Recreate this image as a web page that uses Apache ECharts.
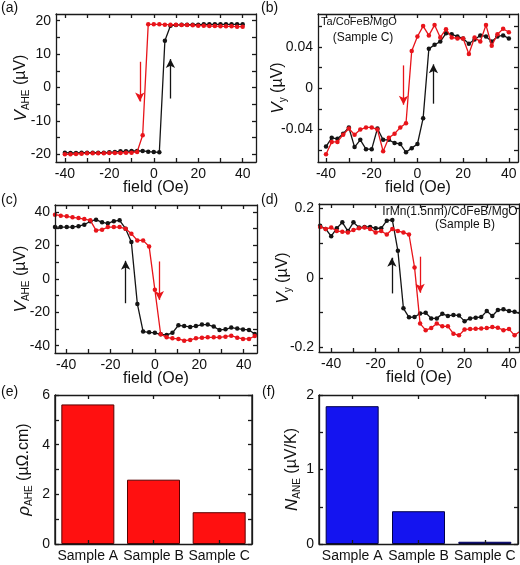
<!DOCTYPE html>
<html><head><meta charset="utf-8">
<script src="https://cdn.jsdelivr.net/npm/echarts@6/dist/echarts.min.js"></script>
<style>html,body{margin:0;padding:0;background:#fff}#c{width:520px;height:565px}</style>
</head><body><div id="c"></div>
<script>
// ---- data ----
const fieldA = [-40,-37.5,-35,-32.5,-30,-27.5,-25,-22.5,-20,-17.5,-15,-12.5,-10,-7.5,-5,-2.5,0,2.5,5,7.5,10,12.5,15,17.5,20,22.5,25,27.5,30,32.5,35,37.5,40];
const blackA = [-19.5,-19.6,-19.6,-19.5,-19.5,-19.5,-19.5,-19.5,-19.4,-19.3,-19.1,-19.1,-19.0,-19.0,-19.0,-19.2,-19.3,-19.4,14.0,18.5,18.7,18.8,18.8,18.8,18.8,18.9,18.9,18.9,18.9,18.9,18.9,18.9,18.9];
const redA = [-20.0,-20.0,-19.9,-19.8,-19.7,-19.7,-19.7,-19.7,-19.6,-19.6,-19.6,-19.5,-19.5,-19.3,-14.3,18.9,18.9,18.9,18.8,18.8,18.8,18.7,18.7,18.6,18.5,18.5,18.4,18.4,18.3,18.3,18.3,18.2,18.2];

const fieldB = [-40,-37.5,-35,-32.5,-30,-27.5,-25,-22.5,-20,-17.5,-15,-12.5,-10,-7.5,-5,-2.5,0,2.5,5,7.5,10,12.5,15,17.5,20,22.5,25,27.5,30,32.5,35,37.5,40];
const blackB = [-0.0565,-0.048,-0.049,-0.044,-0.038,-0.057,-0.050,-0.059,-0.059,-0.039,-0.050,-0.050,-0.053,-0.054,-0.062,-0.058,-0.054,-0.029,0.038,0.042,0.045,0.053,0.052,0.050,0.048,0.043,0.047,0.051,0.050,0.045,0.050,0.051,0.048];
const redB = [-0.064,-0.052,-0.052,-0.045,-0.039,-0.045,-0.040,-0.038,-0.038,-0.040,-0.061,-0.048,-0.044,-0.038,-0.034,0.036,0.050,0.060,0.051,0.061,0.049,0.057,0.049,0.048,0.048,0.033,0.049,0.045,0.061,0.041,0.052,0.0575,0.054];

const fieldC = [-45,-42.4,-39.7,-37.1,-34.4,-31.8,-29.1,-26.5,-23.8,-21.2,-18.5,-15.9,-13.2,-10.6,-7.9,-5.3,-2.6,0,2.6,5.3,7.9,10.6,13.2,15.9,18.5,21.2,23.8,26.5,29.1,31.8,34.4,37.1,39.7,42.4,45];
const blackC = [31,31,31,31,31.5,32.4,34.5,35.4,33.8,33.2,34.5,35,30,22,-15,-31.6,-32,-32.3,-33.2,-33.6,-32.3,-27.8,-28.3,-28.8,-28.3,-27.4,-27.4,-28.6,-30.6,-30.2,-29.2,-29.8,-30.3,-30.6,-33];
const redC = [38.4,37.8,37.4,36.8,36.4,35.8,35,29,29.4,31,31,31,30,27,23,23,19.4,-6.6,-33.2,-35,-35.6,-36,-37,-36.6,-35.6,-35.2,-35,-35,-35,-34.6,-34,-35.2,-36,-36,-34.2];

const fieldD = [-45,-42.5,-40,-37.5,-35,-32.5,-30,-27.5,-25,-22.5,-20,-17.5,-15,-12.5,-10,-7.5,-5,-2.5,0,2.5,5,7.5,10,12.5,15,17.5,20,22.5,25,27.5,30,32.5,35,37.5,40,42.5,45];
const blackD = [0.150,0.141,0.120,0.143,0.160,0.135,0.160,0.145,0.147,0.147,0.143,0.143,0.165,0.167,0.078,-0.088,-0.114,-0.113,-0.103,-0.101,-0.117,-0.117,-0.104,-0.110,-0.107,-0.109,-0.125,-0.117,-0.115,-0.113,-0.096,-0.110,-0.093,-0.091,-0.096,-0.098,-0.103];
const redD = [0.147,0.141,0.145,0.135,0.133,0.131,0.138,0.143,0.145,0.141,0.131,0.135,0.125,0.141,0.135,0.131,0.125,0.030,-0.132,-0.151,-0.145,-0.132,-0.140,-0.140,-0.161,-0.166,-0.149,-0.148,-0.147,-0.146,-0.145,-0.142,-0.144,-0.151,-0.148,-0.166,-0.154];

const samples = ['Sample A','Sample B','Sample C'];
const rhoAHE = [5.62, 2.59, 1.28];
const nANE = [1.85, 0.44, 0.03];

const fieldTicks = [-40,-30,-20,-10,0,10,20,30,40];
const fieldLabels = [-40,-20,0,20,40];
const yTicksA = [-20,-15,-10,-5,0,5,10,15,20], yLabelsA = [-20,-10,0,10,20];
const yTicksB = [-0.06,-0.04,-0.02,0,0.02,0.04,0.06], yLabelsB = [-0.04,0,0.04];
const yTicksC = [-40,-30,-20,-10,0,10,20,30,40], yLabelsC = [-40,-20,0,20,40];
const yTicksD = [-0.2,-0.1,0,0.1,0.2], yLabelsD = [-0.2,0,0.2];
const yTicksE = [0,1,2,3,4,5,6], yLabelsE = [0,2,4,6];
const yTicksF = [0,0.5,1,1.5,2], yLabelsF = [0,1,2];
const sampleIdx = samples.map((s,i)=>i);

// ---- styles ----
const FF = '"Liberation Sans", Arial, Helvetica, sans-serif';
const RED = '#e8141a', BLK = '#141414';
function ax(){ return {color:'#1a1a1a', width:1.3}; }
function richStyle(){ return {
  i:{fontSize:17, fontStyle:'italic', lineHeight:20, fontFamily:FF, color:'#111'},
  s:{fontSize:10, lineHeight:8, verticalAlign:'bottom', fontFamily:FF, color:'#111'},
  n:{fontSize:16, lineHeight:20, fontFamily:FF, color:'#111'}
}; }

const gridBox = [
  [56,14,200,148],[318,14,200,148],[55,205,202,148],[319,204,200,148],[55,395,197,149],[319,395,199,149]
];
const grids = gridBox.map(g => ({left:g[0], top:g[1], width:g[2], height:g[3]}));

const xAxes = [], yAxes = [];
function line(){ return {show:true, onZero:false, lineStyle:ax()}; }
function tick(values){ return {show:true, inside:true, length:4, lineStyle:ax(), customValues:values}; }
function valX(gi, min, max, ticks, labels, name, fmt){
  const lab = {show:true, customValues:labels, fontSize:14, color:'#111', margin:5, fontFamily:FF};
  if (fmt) lab.formatter = fmt;
  const a = {gridIndex:gi, type:'value', position:'bottom', min, max, z:5,
    axisLine:line(), axisTick:tick(ticks), axisLabel:lab, splitLine:{show:false}};
  if (name) Object.assign(a, {name, nameLocation:'middle', nameGap:18, nameMoveOverlap:false,
    nameTextStyle:{fontSize:16, color:'#111', fontFamily:FF}});
  xAxes.push(a);
  xAxes.push({gridIndex:gi, type:'value', position:'top', min, max, z:5,
    axisLine:line(), axisTick:tick(ticks), axisLabel:{show:false}, splitLine:{show:false}});
}
function valY(gi, min, max, ticks, labels, name, gap){
  yAxes.push({gridIndex:gi, type:'value', position:'left', min, max, z:5,
    axisLine:line(), axisTick:tick(ticks),
    axisLabel:{show:true, customValues:labels, fontSize:14, color:'#111', margin:5, fontFamily:FF},
    splitLine:{show:false},
    name, nameLocation:'middle', nameRotate:90, nameGap:gap, nameMoveOverlap:false,
    nameTextStyle:{rich:richStyle(), fontFamily:FF}});
  yAxes.push({gridIndex:gi, type:'value', position:'right', min, max, z:5,
    axisLine:line(), axisTick:tick(ticks), axisLabel:{show:false}, splitLine:{show:false}});
}

const sampleFmt = v => samples[Math.round(v)] || '';
valX(0, -44, 46, fieldTicks, fieldLabels, 'field (Oe)');
valY(0, -22.3, 22, yTicksA, yLabelsA, '{i|V}{s|AHE}{n| (µV)}', 25);
valX(1, -43.5, 44, fieldTicks, fieldLabels, 'field (Oe)');
valY(1, -0.0714, 0.0717, yTicksB, yLabelsB, '{i|V}{s|y}{n| (µV)}', 30);
valX(2, -45, 46, fieldTicks, fieldLabels, 'field (Oe)');
valY(2, -44.4, 44.2, yTicksC, yLabelsC, '{i|V}{s|AHE}{n| (µV)}', 24);
valX(3, -45.5, 44.5, fieldTicks, fieldLabels, 'field (Oe)');
valY(3, -0.214, 0.213, yTicksD, yLabelsD, '{i|V}{s|y}{n| (µV)}', 26);
valX(4, -0.5, 2.5, sampleIdx, sampleIdx, null, sampleFmt);
valY(4, 0, 6, yTicksE, yLabelsE, '{i|ρ}{s|AHE}{n| (µΩ.cm)}', 21);
valX(5, -0.5, 2.5, sampleIdx, sampleIdx, null, sampleFmt);
valY(5, 0, 2, yTicksF, yLabelsF, '{i|N}{s|ANE}{n| (µV/K)}', 17);

function pairs(xs, ys){ return xs.map((x,i)=>[x, ys[i]]); }
function arrow(x, y1, y2, color){
  return {silent:true, symbol:['none','arrow'], symbolSize:[7,9], label:{show:false},
    lineStyle:{color, width:1.3, type:'solid'}, animation:false,
    data:[[{coord:[x,y1]},{coord:[x,y2]}]]};
}
function lineSeries(gi, xs, ys, color, mark){
  const s = {type:'line', xAxisIndex:gi*2, yAxisIndex:gi*2, data:pairs(xs, ys),
    symbol:'circle', symbolSize:4.5, showSymbol:true,
    lineStyle:{color, width:1.3}, itemStyle:{color}, animation:false, z:color===RED?3:2};
  if (mark) s.markLine = mark;
  return s;
}

const series = [
  lineSeries(0, fieldA, blackA, BLK, arrow(7.5, -3.3, 8.5, BLK)),
  lineSeries(0, fieldA, redA, RED, arrow(-6.3, 7.7, -4.2, RED)),
  lineSeries(1, fieldB, blackB, BLK, arrow(7, -0.015, 0.023, BLK)),
  lineSeries(1, fieldB, redB, RED, arrow(-6.1, 0.022, -0.016, RED)),
  lineSeries(2, fieldC, blackC, BLK, arrow(-13.2, -14.6, 10.8, BLK)),
  lineSeries(2, fieldC, redC, RED, arrow(2, 10.4, -12.6, RED)),
  lineSeries(3, fieldD, blackD, BLK, arrow(-12.7, -0.045, 0.058, BLK)),
  lineSeries(3, fieldD, redD, RED, arrow(0, 0.061, -0.043, RED)),
  {type:'bar', xAxisIndex:8, yAxisIndex:8, data:pairs(sampleIdx, rhoAHE), barWidth:53,
    itemStyle:{color:'#ff1010', borderColor:'#5a0000', borderWidth:1}, animation:false},
  {type:'bar', xAxisIndex:10, yAxisIndex:10, data:pairs(sampleIdx, nANE), barWidth:53,
    itemStyle:{color:'#1414f0', borderColor:'#00004a', borderWidth:1}, animation:false}
];

function txt(left, top, text, size){
  return {type:'text', left, top, style:{text, fontSize:size, fontFamily:FF, fill:'#111'}};
}
function ctext(x, y, text, size){
  return {type:'text', x, y, z:10, style:{text, fontSize:size, fontFamily:FF, fill:'#111', align:'center', verticalAlign:'middle'}};
}
// thin filled bars forming the vertical frame sides of the bar panels
function side(x, top, h){
  return {type:'rect', z:100, silent:true, shape:{x:x-0.7, y:top, width:1.4, height:h},
    style:{fill:'#1a1a1a'}};
}
const eB = gridBox[4], fB = gridBox[5];
const graphic = [
  txt(1, 1, '(a)', 14), txt(261, 1, '(b)', 14),
  txt(1, 193, '(c)', 14), txt(261, 193, '(d)', 14),
  txt(1, 385, '(e)', 14), txt(262, 385, '(f)', 14),
  ctext(359, 22, 'Ta/CoFeB/MgO', 11),
  ctext(363, 38, '(Sample C)', 12),
  ctext(450, 212, 'IrMn(1.5nm)/CoFeB/MgO', 12),
  ctext(465, 225, '(Sample B)', 12),
  side(eB[0], eB[1], eB[3]), side(eB[0]+eB[2], eB[1], eB[3]),
  side(fB[0], fB[1], fB[3]), side(fB[0]+fB[2], fB[1], fB[3])
];

const chart = echarts.init(document.getElementById('c'), null, {renderer:'canvas'});
chart.setOption({animation:false, backgroundColor:'#fff', grid:grids, xAxis:xAxes, yAxis:yAxes, series, graphic});
</script></body></html>
